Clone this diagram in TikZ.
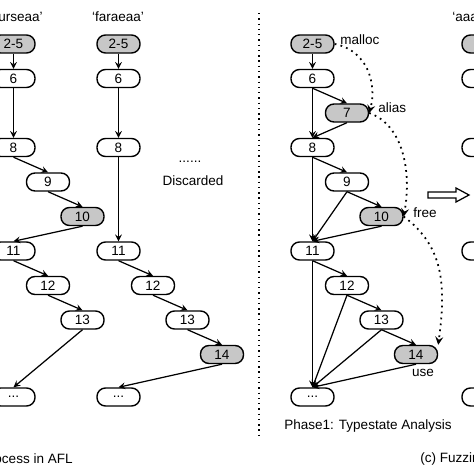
\documentclass[tikz,border=0pt]{standalone}
\usepackage{fontspec}
\setmainfont{Liberation Sans}
\usetikzlibrary{positioning}

\begin{document}
\begin{tikzpicture}[x=0.02cm, y=-0.02cm, font=\fontsize{7.7}{9}\selectfont,
    box/.style={draw, line width=0.8pt, rounded corners=0.17cm, minimum width=0.86cm, minimum height=0.36cm, inner sep=0pt},
    hit/.style={box, fill=black!22},
    tag/.style={inner sep=0pt},
    flow/.style={->, >=stealth, line width=0.7pt},
    typestate/.style={->, >=stealth, line width=1pt, dash pattern=on 1pt off 2.4pt}]
    \useasboundingbox (0,0) rectangle (474,474);

    % Path of one seed ('curseaa')
    \foreach \n/\x/\y/\t in {6/13.5/78.5/6, 8/13.5/147.5/8, 9/48/182/9, 11/13.5/251/11, 12/48/285.5/12, 13/82.5/320/13} {
      \node[box] (a\n) at (\x,\y) {\t};
    }
    \node[hit] (a25) at (13.5,44) {2-5};
    \node[hit] (a10) at (82.5,216.5) {10};
    \node[box] (aend) at (13.5,397) {...};
    \foreach \s/\t in {25/6, 6/8, 8/9, 9/10, 10/11, 11/12, 12/13, 13/end} {
      \draw[flow] (a\s.south) -- (a\t.north);
    }
    \node[tag, anchor=east] (alabel) at (43,17) {`curseaa'};

    % Path of a second seed ('faraeaa')
    \foreach \n/\x/\y/\t in {6/118.5/78.5/6, 8/118.5/147.5/8, 11/118.5/251/11, 12/153/285.5/12, 13/187.5/320/13} {
      \node[box] (b\n) at (\x,\y) {\t};
    }
    \node[hit] (b25) at (118.5,44) {2-5};
    \node[hit] (b14) at (222,354.5) {14};
    \node[box] (bend) at (118.5,397) {...};
    \foreach \s/\t in {25/6, 6/8, 8/11, 11/12, 12/13, 13/14, 14/end} {
      \draw[flow] (b\s.south) -- (b\t.north);
    }
    \node (blabel) at (118,17) {`faraeaa'};

    % Discarded seeds
    \node (more) at (190,162) {......};
    \node (discard) at (193,181) {Discarded};

    % Caption of the left part
    \node[tag, anchor=east] (acaption) at (73,459) {Process in AFL};

    % Separator
    \draw[line width=0.8pt, dash pattern=on 0.8pt off 2.2pt] (259,13) -- (259,436);

    % Phase1: typestate analysis on the control flow graph
    \foreach \n/\x/\y/\t in {6/312.5/78.5/6, 8/312.5/147.5/8, 9/347/182/9, 11/312.5/251/11, 12/347/285.5/12, 13/381.5/320/13} {
      \node[box] (c\n) at (\x,\y) {\t};
    }
    \node[hit] (c25) at (312.5,44) {2-5};
    \node[hit] (c7) at (347,113) {7};
    \node[hit] (c10) at (381.5,216.5) {10};
    \node[hit] (c14) at (416,354.5) {14};
    \node[box] (cend) at (312.5,397) {...};
    \foreach \s/\t in {25/6, 6/7, 6/8, 7/8, 8/9, 8/11, 9/10, 9/11, 10/11, 11/12, 11/end, 12/13, 12/end, 13/14, 13/end, 14/end} {
      \draw[flow] (c\s.south) -- (c\t.north);
    }

    % Typestate transitions
    \draw[typestate] (c25.east) .. controls +(32,6) and +(8,-30) .. (c7.east);
    \draw[typestate] (c7.east) .. controls +(34,12) and +(8,-45) .. (c10.east);
    \draw[typestate] (c10.east) .. controls +(40,30) and +(8,-60) .. (c14.north east);
    \node[tag, anchor=west] (malloc) at (340,40) {malloc};
    \node[tag, anchor=west] (alias) at (378,108) {alias};
    \node[tag, anchor=west] (free) at (413,213) {free};
    \node (use) at (423,373) {use};
    \node (phase) at (368,426) {Phase1: Typestate Analysis};

    % Hollow arrow
    \draw[line width=0.7pt] (428,192) -- (456,192) -- (456,188) -- (469,195) -- (456,202) -- (456,198) -- (428,198) -- cycle;

    % Right part
    \foreach \n/\y/\t in {6/78.5/6, 8/147.5/8, 11/251/11} {
      \node[box] (d\n) at (483.5,\y) {\t};
    }
    \node[hit] (d25) at (483.5,44) {2-5};
    \node[box] (dend) at (483.5,397) {...};
    \node[tag, anchor=west] (dlabel) at (452,17) {`aaaa'};
    \node[tag, anchor=west] (ccaption) at (420,459) {(c) Fuzzing};
\end{tikzpicture}
\end{document}
